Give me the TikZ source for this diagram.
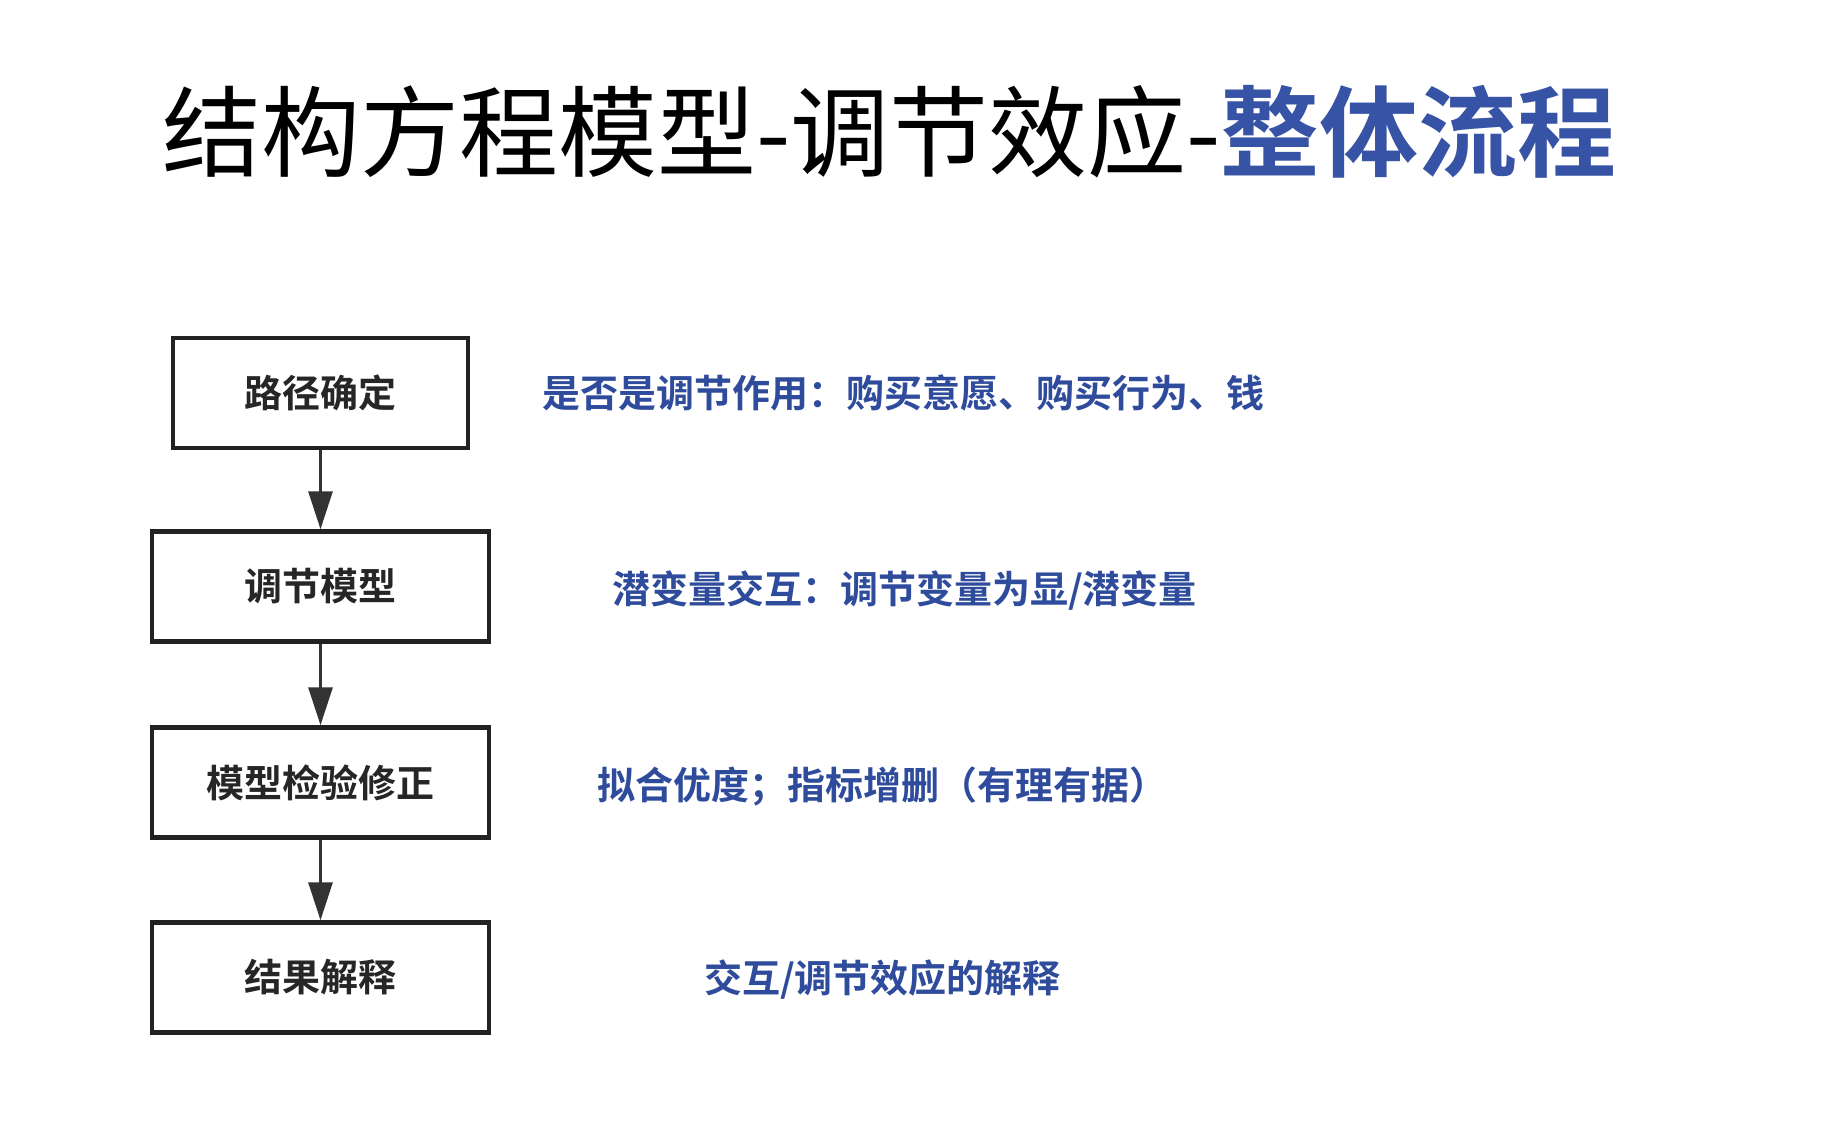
\documentclass[tikz,border=0pt]{standalone}
\usepackage{fontspec}
\usetikzlibrary{arrows.meta}
\newfontfamily\cjk{Noto Sans CJK SC}
\newfontfamily\cjkb{Noto Sans CJK SC Bold}
\definecolor{titleblue}{HTML}{3653A5}
\definecolor{textblue}{HTML}{2F4C9C}
\definecolor{boxline}{HTML}{222222}
\definecolor{arrowc}{HTML}{333333}
\tikzset{
  stepbox/.style={draw=boxline, line width=4.5pt, minimum height=110pt, inner sep=0pt,
    font=\cjkb\fontsize{38}{44}\selectfont, text=black!85},
  note/.style={font=\cjkb\fontsize{38}{44}\selectfont, text=textblue, inner sep=0pt, anchor=west},
  flow/.style={draw=arrowc, line width=3pt, -{Triangle[length=38pt,width=24pt]}}
}
\begin{document}
\begin{tikzpicture}[x=1pt,y=-1pt]
\useasboundingbox[fill=white] (0,0) rectangle (1834,1146);
\node[inner sep=0pt, anchor=west, font=\fontsize{99}{110}\selectfont] (title) at (162,132)
  {{\cjk 结构方程模型-调节效应-}{\cjkb\color{titleblue}整体流程}};
\node[stepbox, minimum width=295pt] (b1) at (320.5,393) {路径确定};
\node[stepbox, minimum width=337pt] (b2) at (320.5,586.5) {调节模型};
\node[stepbox, minimum width=337pt] (b3) at (320.5,782.5) {模型检验修正};
\node[stepbox, minimum width=337pt] (b4) at (320.5,977.5) {结果解释};
\draw[flow] (b1.south) -- (b2.north);
\draw[flow] (b2.south) -- (b3.north);
\draw[flow] (b3.south) -- (b4.north);
\node[note] (t1) at (542,393) {是否是调节作用：购买意愿、购买行为、钱};
\node[note] (t2) at (612,591) {潜变量交互：调节变量为显/潜变量};
\node[note] (t3) at (597,786) {拟合优度；指标增删（有理有据）};
\node[note] (t4) at (704,980) {交互/调节效应的解释};
\end{tikzpicture}
\end{document}
